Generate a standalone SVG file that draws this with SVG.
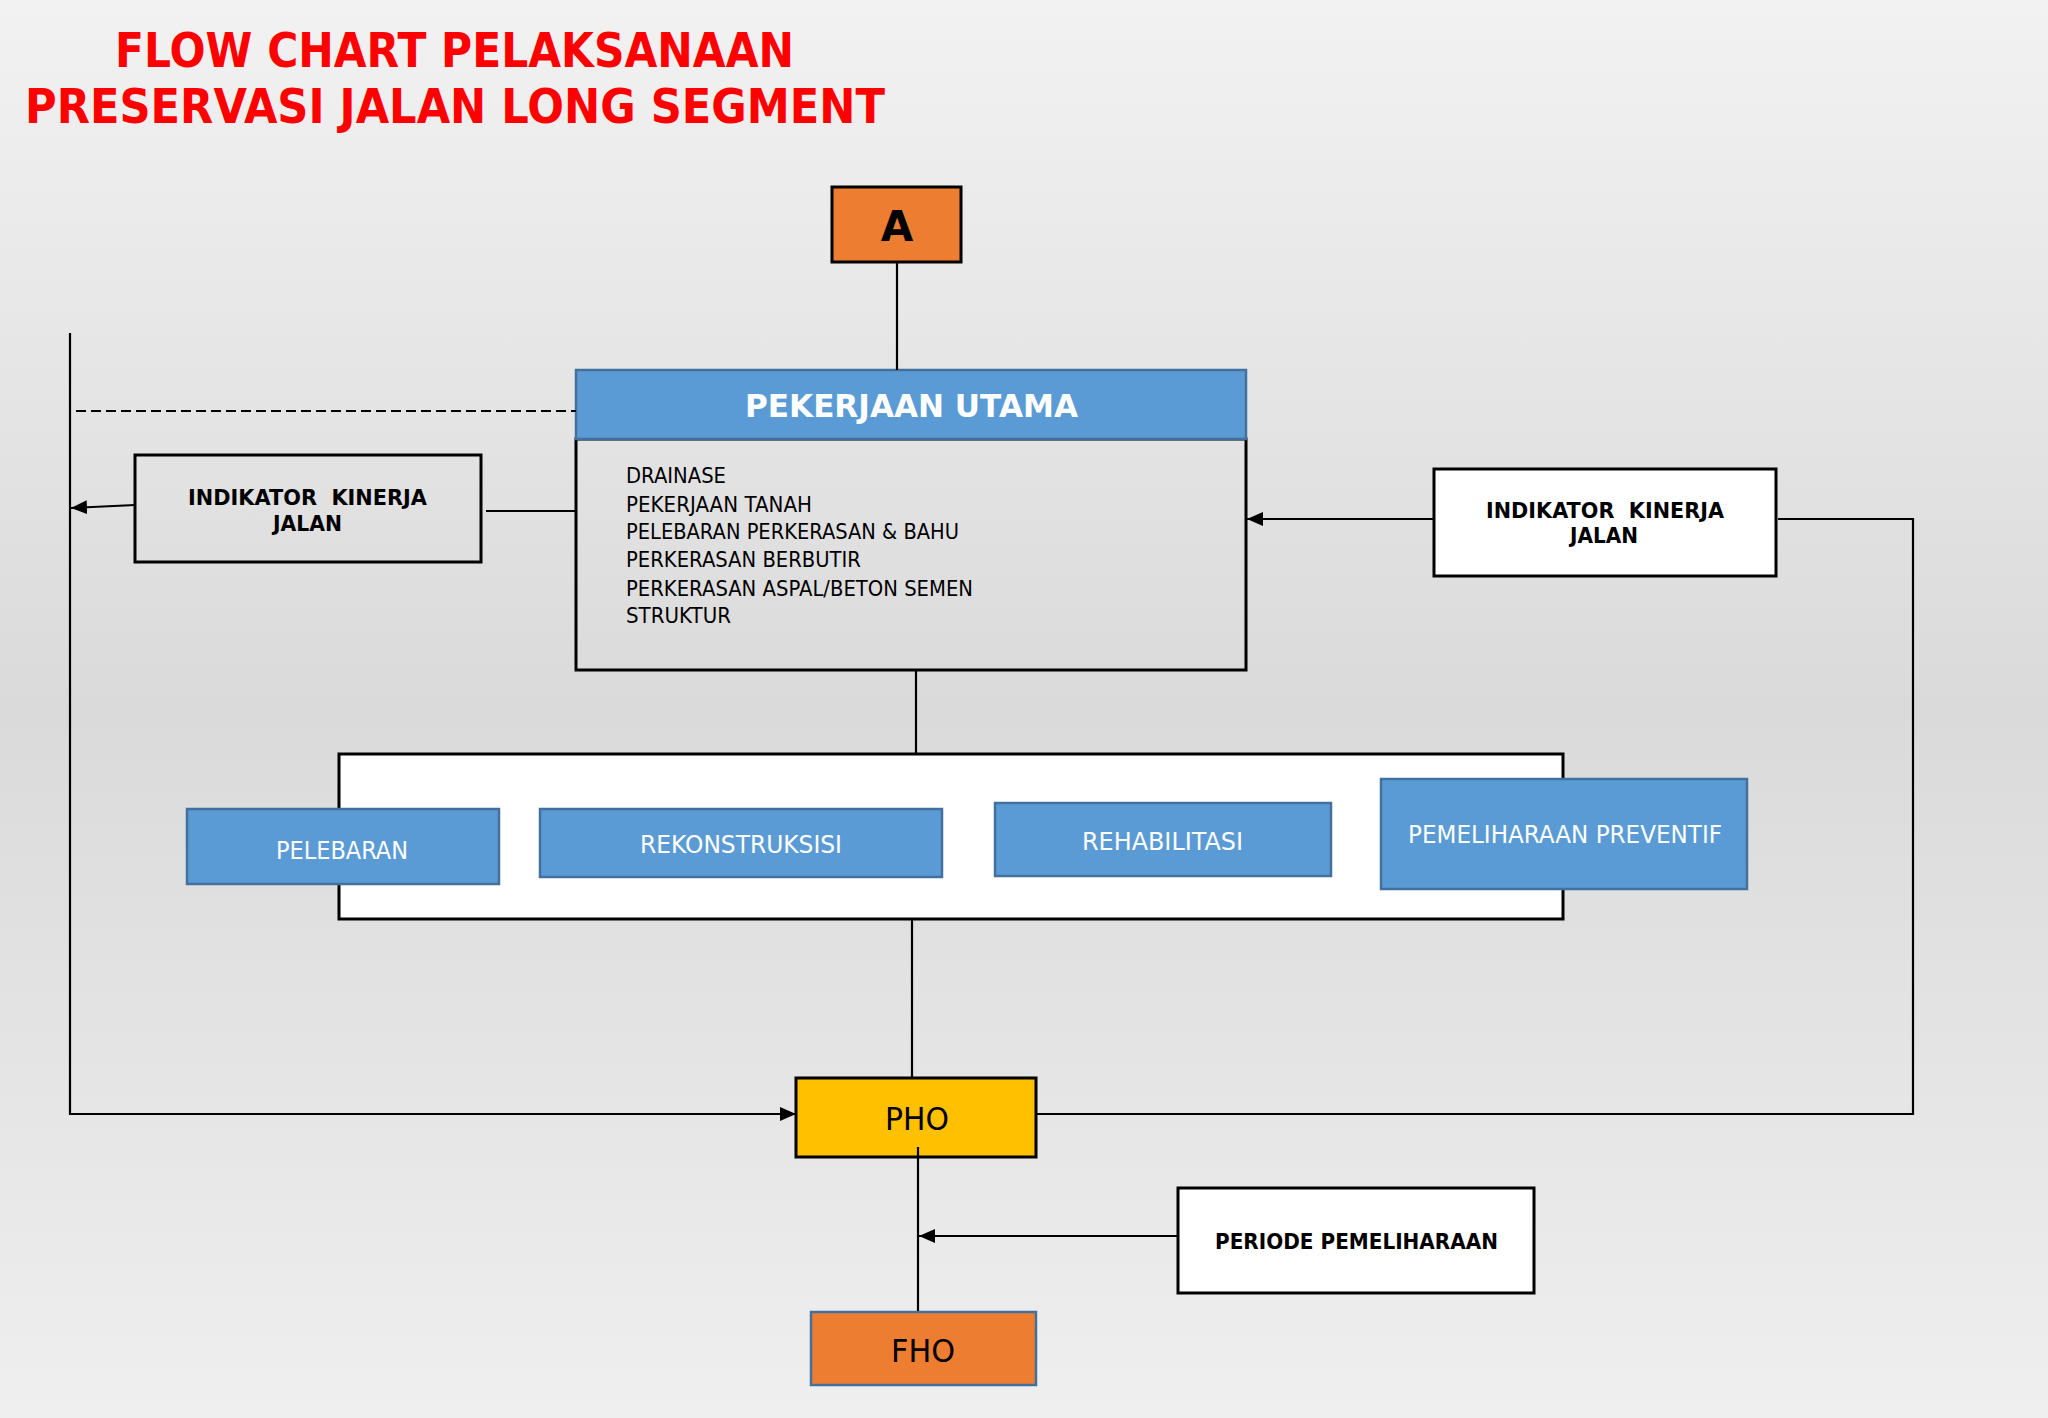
<svg xmlns="http://www.w3.org/2000/svg" width="2048" height="1418" viewBox="0 0 2048 1418">
<defs>
<linearGradient id="bg" x1="0" y1="0" x2="0" y2="1">
<stop offset="0" stop-color="#F2F2F2"/>
<stop offset="0.5" stop-color="#DADADA"/>
<stop offset="1" stop-color="#EFEFEF"/>
</linearGradient>
<marker id="arr" markerUnits="userSpaceOnUse" markerWidth="16" markerHeight="14" refX="16" refY="7" orient="auto">
<path d="M0,0 L16,7 L0,14 Z" fill="#000"/>
</marker>
<style>
.t{font-family:"DejaVu Sans","Liberation Sans",sans-serif;white-space:pre}
.title{font-size:48px;font-weight:bold;fill:#FF0000}
.box{stroke:#000;stroke-width:3}
.blue{fill:#5B9BD5;stroke:#41719C;stroke-width:2.5}
.conn{stroke:#000;stroke-width:2.2;fill:none}
.lbl{font-size:22px;font-weight:bold;fill:#000}
.list{font-size:22px;fill:#000}
.sub{font-size:24px;fill:#fff}
.big{font-size:32px;fill:#000}
</style>
</defs>
<rect width="2048" height="1418" fill="url(#bg)"/>
<g id="title">
<text class="t title" x="115" y="67" textLength="679" lengthAdjust="spacingAndGlyphs">FLOW CHART PELAKSANAAN</text>
<text class="t title" x="25" y="123" textLength="860" lengthAdjust="spacingAndGlyphs">PRESERVASI JALAN LONG SEGMENT</text>
</g>
<g id="node-A">
<rect class="box" x="832" y="187" width="129" height="75" fill="#ED7D31"/>
<text class="t" x="897" y="241" text-anchor="middle" font-size="42" font-weight="bold" fill="#000">A</text>
</g>
<g id="node-pekerjaan">
<rect class="box" x="576" y="439" width="670" height="231" fill="none"/>
<rect class="blue" x="576" y="370" width="670" height="69"/>
<text class="t" x="745" y="417" font-size="32" font-weight="bold" fill="#fff" textLength="333" lengthAdjust="spacingAndGlyphs">PEKERJAAN UTAMA</text>
<text class="t list" x="626" y="483" textLength="100" lengthAdjust="spacingAndGlyphs">DRAINASE</text>
<text class="t list" x="626" y="512" textLength="186" lengthAdjust="spacingAndGlyphs">PEKERJAAN TANAH</text>
<text class="t list" x="626" y="539" textLength="333" lengthAdjust="spacingAndGlyphs">PELEBARAN PERKERASAN &amp; BAHU</text>
<text class="t list" x="626" y="567" textLength="235" lengthAdjust="spacingAndGlyphs">PERKERASAN BERBUTIR</text>
<text class="t list" x="626" y="596" textLength="347" lengthAdjust="spacingAndGlyphs">PERKERASAN ASPAL/BETON SEMEN</text>
<text class="t list" x="626" y="623" textLength="105" lengthAdjust="spacingAndGlyphs">STRUKTUR</text>
</g>
<g id="node-indikator-left">
<rect class="box" x="135" y="455" width="346" height="107" fill="none"/>
<text class="t lbl" x="188" y="505" textLength="239" lengthAdjust="spacingAndGlyphs">INDIKATOR  KINERJA</text>
<text class="t lbl" x="273" y="531" textLength="69" lengthAdjust="spacingAndGlyphs">JALAN</text>
</g>
<g id="node-indikator-right">
<rect class="box" x="1434" y="469" width="342" height="107" fill="#fff"/>
<text class="t lbl" x="1486" y="518" textLength="238" lengthAdjust="spacingAndGlyphs">INDIKATOR  KINERJA</text>
<text class="t lbl" x="1570" y="543" textLength="68" lengthAdjust="spacingAndGlyphs">JALAN</text>
</g>
<g id="node-jenis">
<rect class="box" x="339" y="754" width="1224" height="165" fill="#fff"/>
</g>
<g id="node-pelebaran">
<rect class="blue" x="187" y="809" width="312" height="75"/>
<text class="t sub" x="276" y="859" textLength="132" lengthAdjust="spacingAndGlyphs">PELEBARAN</text>
</g>
<g id="node-rekonstruksi">
<rect class="blue" x="540" y="809" width="402" height="68"/>
<text class="t sub" x="640" y="853" textLength="202" lengthAdjust="spacingAndGlyphs">REKONSTRUKSISI</text>
</g>
<g id="node-rehabilitasi">
<rect class="blue" x="995" y="803" width="336" height="73"/>
<text class="t sub" x="1082" y="850" textLength="161" lengthAdjust="spacingAndGlyphs">REHABILITASI</text>
</g>
<g id="node-preventif">
<rect class="blue" x="1381" y="779" width="366" height="110"/>
<text class="t sub" x="1408" y="843" textLength="314" lengthAdjust="spacingAndGlyphs">PEMELIHARAAN PREVENTIF</text>
</g>
<g id="node-pho">
<rect class="box" x="796" y="1078" width="240" height="79" fill="#FFC000"/>
<text class="t big" x="885" y="1130" textLength="64" lengthAdjust="spacingAndGlyphs">PHO</text>
</g>
<g id="node-periode">
<rect class="box" x="1178" y="1188" width="356" height="105" fill="#fff"/>
<text class="t lbl" x="1215" y="1249" textLength="283" lengthAdjust="spacingAndGlyphs">PERIODE PEMELIHARAAN</text>
</g>
<g id="node-fho">
<rect x="811" y="1312" width="225" height="73" fill="#ED7D31" stroke="#41719C" stroke-width="2.5"/>
<text class="t big" x="891" y="1362" textLength="64" lengthAdjust="spacingAndGlyphs">FHO</text>
</g>
<g id="connectors">
<line class="conn" x1="897" y1="262" x2="897" y2="370"/>
<line class="conn" x1="76" y1="411" x2="576" y2="411" stroke-dasharray="10 5"/>
<line class="conn" x1="576" y1="511" x2="486" y2="511"/>
<line class="conn" x1="135" y1="505" x2="71" y2="508" marker-end="url(#arr)"/>
<polyline class="conn" points="70,333 70,1114 796,1114" marker-end="url(#arr)"/>
<line class="conn" x1="1434" y1="519" x2="1247" y2="519" marker-end="url(#arr)"/>
<polyline class="conn" points="1778,519 1913,519 1913,1114 1036,1114"/>
<line class="conn" x1="916" y1="670" x2="916" y2="754"/>
<line class="conn" x1="912" y1="919" x2="912" y2="1078"/>
<line class="conn" x1="918" y1="1147" x2="918" y2="1311"/>
<line class="conn" x1="1178" y1="1236" x2="919" y2="1236" marker-end="url(#arr)"/>
</g>
</svg>
